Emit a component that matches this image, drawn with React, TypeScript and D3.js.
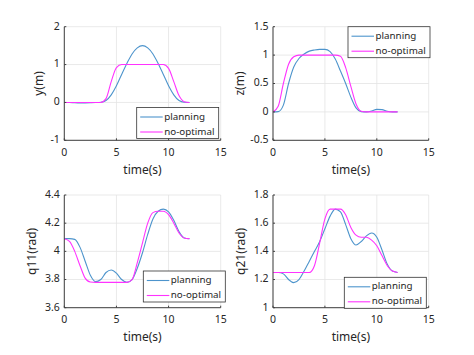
import React from "react";
import * as d3 from "d3";

const T = [0, 0.5, 1, 1.5, 2, 2.5, 3, 3.5, 4, 4.5, 5, 5.5, 6, 6.5, 7, 7.5, 8, 8.5, 9, 9.5, 10, 10.5, 11, 11.5, 12];

const yPlanning = [0, 0, -0.01, -0.015, -0.012, -0.008, -0.003, 0.005, 0.05, 0.2, 0.44, 0.74, 1.03, 1.28, 1.44, 1.5, 1.44, 1.28, 1.03, 0.74, 0.44, 0.2, 0.05, 0.005, 0];
const yNoOptimal = [0, 0, 0, 0, 0, 0, 0, 0, 0.1, 0.55, 0.92, 1, 1, 1, 1, 1, 1, 1, 1, 1, 0.9, 0.55, 0.18, 0.02, 0];

const zPlanning = [0, 0.005, 0.12, 0.5, 0.79, 0.94, 1.02, 1.07, 1.09, 1.1, 1.1, 1.06, 0.93, 0.72, 0.5, 0.26, 0.07, 0.005, 0, 0.015, 0.045, 0.04, 0.012, 0, 0];
const zNoOptimal = [0, 0.1, 0.5, 0.84, 0.97, 1, 1, 1, 1, 1, 1, 1, 1, 0.98, 0.78, 0.45, 0.14, 0.01, 0, 0, 0, 0, 0, 0, 0];

const q11Planning = [4.09, 4.09, 4.085, 4.03, 3.93, 3.83, 3.785, 3.8, 3.85, 3.868, 3.845, 3.8, 3.78, 3.8, 3.88, 3.99, 4.12, 4.23, 4.285, 4.3, 4.28, 4.22, 4.14, 4.095, 4.09];
const q11NoOptimal = [4.09, 4.07, 4.0, 3.9, 3.81, 3.782, 3.78, 3.78, 3.78, 3.78, 3.78, 3.78, 3.78, 3.8, 3.92, 4.06, 4.2, 4.275, 4.285, 4.285, 4.26, 4.2, 4.13, 4.095, 4.09];

const q21Planning = [1.25, 1.25, 1.24, 1.2, 1.178, 1.2, 1.26, 1.33, 1.4, 1.47, 1.56, 1.65, 1.7, 1.68, 1.59, 1.49, 1.445, 1.47, 1.51, 1.53, 1.5, 1.41, 1.31, 1.26, 1.25];
const q21NoOptimal = [1.25, 1.25, 1.25, 1.25, 1.25, 1.25, 1.25, 1.25, 1.3, 1.46, 1.63, 1.7, 1.7, 1.7, 1.66, 1.57, 1.515, 1.5, 1.5, 1.48, 1.44, 1.37, 1.3, 1.26, 1.25];

const xTicks = [0, 5, 10, 15];
const seriesNames = ["planning", "no-optimal"];
const colors = ["#4d94cc", "#ff33ff"];

const FONT = "'Noto Sans', sans-serif";

type PanelCfg = {
  left: number; right: number; top: number; bottom: number;
  yDomain: [number, number]; yTicks: number[]; ylabel: string; ylabelX: number;
  legendX: number; legendY: number;
  a: number[]; b: number[];
};

const panels: PanelCfg[] = [
  { left: 64.3, right: 220.7, top: 26.7, bottom: 140.3, yDomain: [-1, 2], yTicks: [-1, 0, 1, 2], ylabel: "y(m)", ylabelX: 40, legendX: 136.7, legendY: 107.5, a: yPlanning, b: yNoOptimal },
  { left: 273, right: 428.7, top: 26.7, bottom: 140.3, yDomain: [-0.5, 1.5], yTicks: [-0.5, 0, 0.5, 1, 1.5], ylabel: "z(m)", ylabelX: 241, legendX: 348, legendY: 26.7, a: zPlanning, b: zNoOptimal },
  { left: 64.3, right: 220.7, top: 195, bottom: 307.7, yDomain: [3.6, 4.4], yTicks: [3.6, 3.8, 4, 4.2, 4.4], ylabel: "q11(rad)", ylabelX: 33, legendX: 143.3, legendY: 271, a: q11Planning, b: q11NoOptimal },
  { left: 273, right: 428.7, top: 195, bottom: 307.7, yDomain: [1, 1.8], yTicks: [1, 1.2, 1.4, 1.6, 1.8], ylabel: "q21(rad)", ylabelX: 242, legendX: 344.3, legendY: 277.3, a: q21Planning, b: q21NoOptimal },
];

function Panel({ p }: { p: PanelCfg }) {
  const x = d3.scaleLinear().domain([0, 15]).range([p.left, p.right]);
  const y = d3.scaleLinear().domain(p.yDomain).range([p.bottom, p.top]);
  const line = d3.line<[number, number]>().x(d => x(d[0])).y(d => y(d[1])).curve(d3.curveMonotoneX);
  const series = [p.a, p.b];
  const fmt = (v: number) => String(+v.toFixed(2));
  const lw = 82, lh = 31;
  return (
    <g>
      {xTicks.map(t => (
        <line key={"gx" + t} x1={x(t)} x2={x(t)} y1={p.top} y2={p.bottom} stroke="#e3e3e3" strokeWidth={0.8} />
      ))}
      {p.yTicks.map(t => (
        <line key={"gy" + t} x1={p.left} x2={p.right} y1={y(t)} y2={y(t)} stroke="#e3e3e3" strokeWidth={0.8} />
      ))}
      {series.map((s, i) => (
        <path key={"s" + i} d={line(T.map((t, j) => [t, s[j]] as [number, number])) || ""} fill="none" stroke={colors[i]} strokeWidth={1.1} />
      ))}
      <line x1={p.left} x2={p.right} y1={p.bottom} y2={p.bottom} stroke="#404040" strokeWidth={1} />
      <line x1={p.left} x2={p.left} y1={p.top} y2={p.bottom} stroke="#404040" strokeWidth={1} />
      {xTicks.map(t => (
        <g key={"tx" + t}>
          <line x1={x(t)} x2={x(t)} y1={p.bottom} y2={p.bottom - 2} stroke="#404040" />
          <text x={x(t)} y={p.bottom + 12.5} fontSize={10.5} fontFamily={FONT} textAnchor="middle" dominantBaseline="middle" fill="#262626">{t}</text>
        </g>
      ))}
      {p.yTicks.map(t => (
        <g key={"ty" + t}>
          <line x1={p.left} x2={p.left + 2} y1={y(t)} y2={y(t)} stroke="#404040" />
          <text x={p.left - 4.5} y={y(t)} fontSize={10.5} fontFamily={FONT} textAnchor="end" dominantBaseline="middle" fill="#262626">{fmt(t)}</text>
        </g>
      ))}
      <text x={(p.left + p.right) / 2} y={p.bottom + 30.5} fontSize={12} fontFamily={FONT} textAnchor="middle" dominantBaseline="middle" fill="#262626">time(s)</text>
      <text transform={`translate(${p.ylabelX},${(p.top + p.bottom) / 2}) rotate(-90)`} fontSize={12} fontFamily={FONT} textAnchor="middle" dominantBaseline="middle" fill="#262626">{p.ylabel}</text>
      <g transform={`translate(${p.legendX},${p.legendY})`}>
        <rect x={0} y={0} width={lw} height={lh} fill="#fff" stroke="#333" strokeWidth={0.8} />
        {seriesNames.map((n, i) => (
          <g key={n}>
            <line x1={3.5} x2={26} y1={9.5 + i * 15} y2={9.5 + i * 15} stroke={colors[i]} strokeWidth={1.1} />
            <text x={27.5} y={9.5 + i * 15} fontSize={9.8} fontFamily={FONT} dominantBaseline="middle" fill="#262626">{n}</text>
          </g>
        ))}
      </g>
    </g>
  );
}

export default function App() {
  return (
    <svg width={474} height={355} style={{ position: "absolute", left: 0, top: 0, background: "#fff" }}>
      <rect width={474} height={355} fill="#fff" />
      {panels.map((p, i) => <Panel key={i} p={p} />)}
    </svg>
  );
}
